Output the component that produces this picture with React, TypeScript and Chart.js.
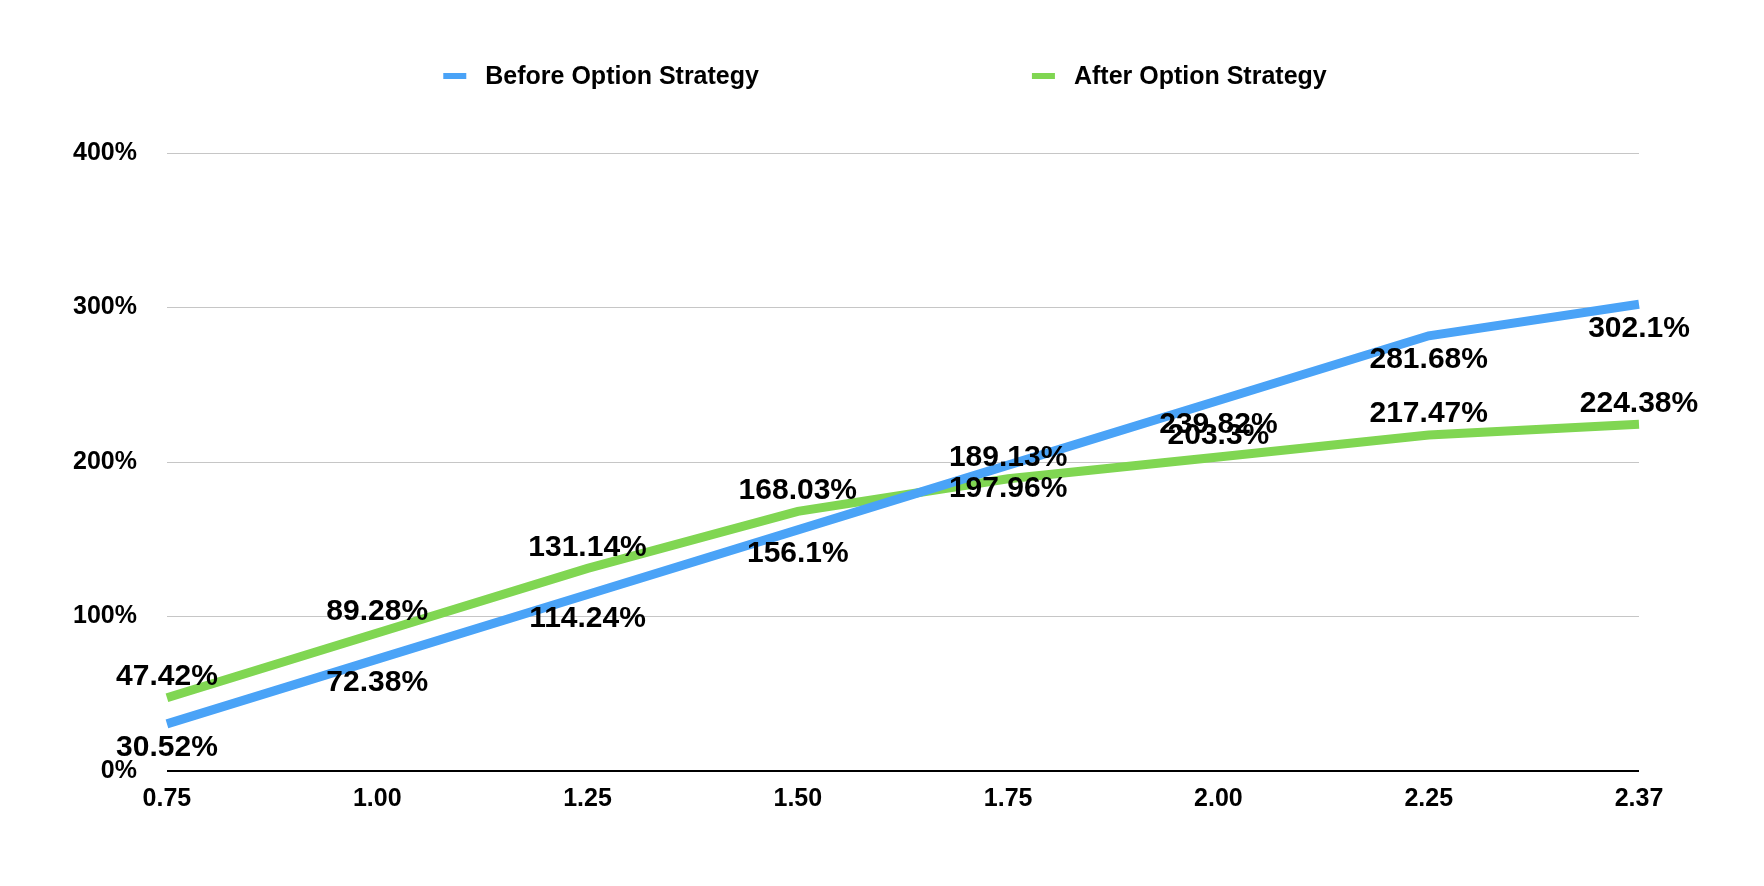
import React, { useEffect, useRef } from "react";
import { Chart, registerables } from "chart.js";

Chart.register(...registerables);

const categories = ["0.75", "1.00", "1.25", "1.50", "1.75", "2.00", "2.25", "2.37"];
const beforeValues = [30.52, 72.38, 114.24, 156.1, 197.96, 239.82, 281.68, 302.1];
const afterValues = [47.42, 89.28, 131.14, 168.03, 189.13, 203.3, 217.47, 224.38];
const seriesNames = ["Before Option Strategy", "After Option Strategy"];
const seriesColors = ["#4aa3f7", "#80d652"];
const yTicks = [0, 100, 200, 300, 400];

const FONT = "'Liberation Sans', Arial, Helvetica, sans-serif";

const dataLabelPlugin = {
  id: "dataLabels",
  afterDatasetsDraw(chart: any) {
    const ctx = chart.ctx;
    ctx.save();
    ctx.font = `bold 30px ${FONT}`;
    ctx.fillStyle = "#000";
    ctx.textAlign = "center";
    ctx.textBaseline = "middle";
    chart.data.datasets.forEach((ds: any, di: number) => {
      const meta = chart.getDatasetMeta(di);
      const offset = di === 0 ? 24 : -21;
      meta.data.forEach((pt: any, i: number) => {
        const v = ds.data[i];
        ctx.fillText(`${v}%`, pt.x, pt.y + offset);
      });
    });
    ctx.restore();
  },
};

const legendPlugin = {
  id: "customLegend",
  afterDraw(chart: any) {
    const ctx = chart.ctx;
    ctx.save();
    ctx.font = `bold 25px ${FONT}`;
    ctx.textBaseline = "middle";
    ctx.textAlign = "left";
    const boxW = 23;
    const boxH = 6;
    const textGap = 19;
    const itemGap = 273;
    const items = chart.data.datasets.map((ds: any) => ({
      label: ds.label,
      color: ds.borderColor,
      w: boxW + textGap + ctx.measureText(ds.label).width,
    }));
    const total = items.reduce((s: number, it: any) => s + it.w, 0) + itemGap * (items.length - 1);
    let x = (chart.width - total) / 2 + 3;
    const y = 68;
    items.forEach((it: any) => {
      ctx.fillStyle = it.color;
      ctx.fillRect(x, y - boxH / 2, boxW, boxH);
      ctx.fillStyle = "#000";
      ctx.fillText(it.label, x + boxW + textGap, y + 1);
      x += it.w + itemGap;
    });
    ctx.restore();
  },
};

export default function App() {
  const canvasRef = useRef<HTMLCanvasElement | null>(null);

  useEffect(() => {
    if (!canvasRef.current) return;
    const chart = new Chart(canvasRef.current, {
      type: "line",
      data: {
        labels: categories,
        datasets: [
          {
            label: seriesNames[0],
            data: beforeValues,
            borderColor: seriesColors[0],
            backgroundColor: seriesColors[0],
            borderWidth: 9,
            pointRadius: 0,
            pointHoverRadius: 0,
            tension: 0,
          },
          {
            label: seriesNames[1],
            data: afterValues,
            borderColor: seriesColors[1],
            backgroundColor: seriesColors[1],
            borderWidth: 9,
            pointRadius: 0,
            pointHoverRadius: 0,
            tension: 0,
          },
        ],
      },
      options: {
        animation: false,
        responsive: true,
        maintainAspectRatio: false,
        layout: {
          padding: { top: 145, left: 35, right: 117, bottom: 51 },
        },
        plugins: {
          legend: { display: false },
          tooltip: { enabled: false },
        },
        scales: {
          x: {
            type: "category",
            offset: false,
            grid: { display: false, drawTicks: false },
            border: { display: false },
            ticks: {
              color: "#000",
              padding: 13,
              maxRotation: 0,
              autoSkip: false,
              font: { family: FONT, size: 25, weight: "bold" },
            },
          },
          y: {
            min: yTicks[0],
            max: yTicks[yTicks.length - 1],
            afterBuildTicks: (scale: any) => {
              scale.ticks = yTicks.map((v) => ({ value: v }));
            },
            grid: {
              drawTicks: false,
              color: (c: any) => (c.tick && c.tick.value === 0 ? "#000" : "#c6c6c6"),
              lineWidth: (c: any) => (c.tick && c.tick.value === 0 ? 2 : 1),
            },
            border: { display: false },
            ticks: {
              color: "#000",
              padding: 30,
              font: { family: FONT, size: 25, weight: "bold" },
              callback: (v: any) => `${v}%`,
            },
          },
        },
      },
      plugins: [dataLabelPlugin, legendPlugin],
    });
    return () => chart.destroy();
  }, []);

  return (
    <div style={{ position: "relative", width: "1748px", height: "870px" }}>
      <canvas ref={canvasRef} style={{ display: "block" }} />
    </div>
  );
}
